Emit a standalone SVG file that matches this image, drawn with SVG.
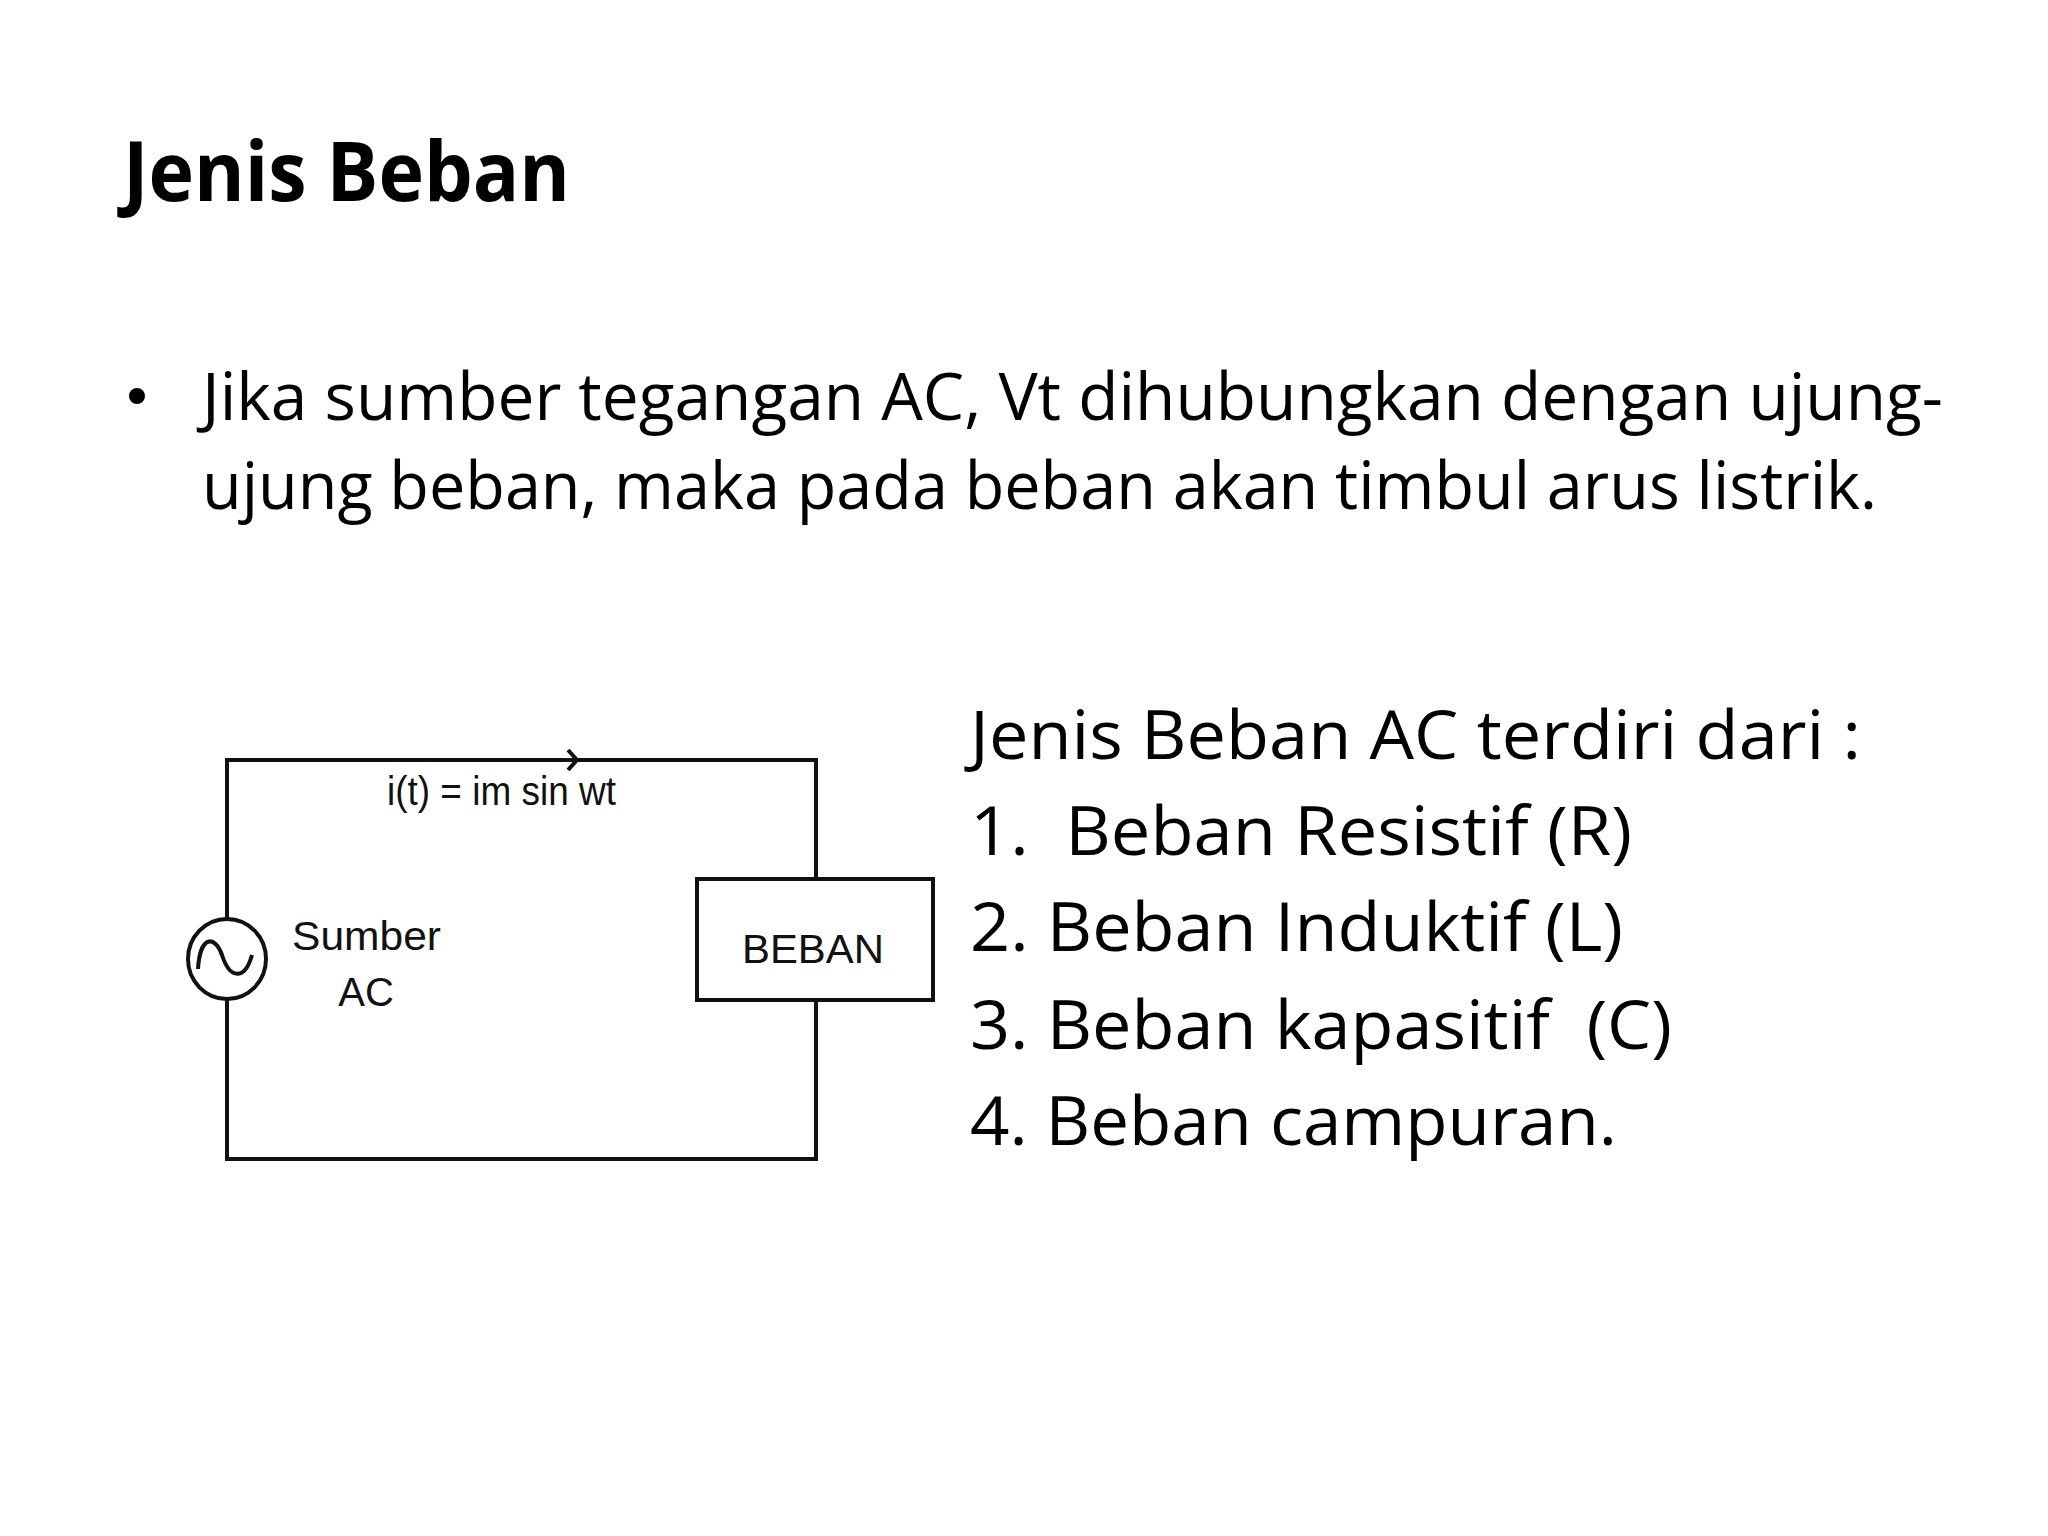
<svg xmlns="http://www.w3.org/2000/svg" width="2048" height="1536" viewBox="0 0 2048 1536">
<style>
.t{font-family:"Open Sans","Liberation Sans",sans-serif;fill:#000}
.c{font-family:"Liberation Sans",Arial,sans-serif;fill:#111;font-size:40px}
.w{fill:none;stroke:#111;stroke-width:4}
</style>
<rect width="2048" height="1536" fill="#fff"/>
<text class="t" x="123" y="201" font-size="82" font-weight="bold" textLength="447" lengthAdjust="spacingAndGlyphs">Jenis Beban</text>
<circle cx="137" cy="396" r="8" fill="#000"/>
<text class="t" x="202" y="420" font-size="66" textLength="1741" lengthAdjust="spacingAndGlyphs">Jika sumber tegangan AC, Vt dihubungkan dengan ujung-</text>
<text class="t" x="202" y="509" font-size="66" textLength="1675" lengthAdjust="spacingAndGlyphs">ujung beban, maka pada beban akan timbul arus listrik.</text>
<g id="list">
<text class="t" x="970" y="759" font-size="68" textLength="891" lengthAdjust="spacingAndGlyphs">Jenis Beban AC terdiri dari :</text>
<text class="t" x="970" y="855" font-size="68" textLength="662" lengthAdjust="spacingAndGlyphs" xml:space="preserve">1.  Beban Resistif (R)</text>
<text class="t" x="970" y="951" font-size="68" textLength="653" lengthAdjust="spacingAndGlyphs">2. Beban Induktif (L)</text>
<text class="t" x="970" y="1049" font-size="68" textLength="702" lengthAdjust="spacingAndGlyphs" xml:space="preserve">3. Beban kapasitif  (C)</text>
<text class="t" x="970" y="1145" font-size="68" textLength="647" lengthAdjust="spacingAndGlyphs">4. Beban campuran.</text>
</g>
<g id="connectors">
<polyline class="w" points="227,919 227,760 816,760 816,879"/>
<polyline class="w" points="227,999 227,1159 816,1159 816,1000"/>
<polyline class="w" points="568,750 577,760 568,770" stroke-width="3"/>
</g>
<g id="source">
<ellipse class="w" cx="227" cy="959" rx="39" ry="40" stroke-width="3"/>
<path class="w" stroke-width="3" d="M198,969 C200,935 215,935 222,955 C230,980 245,980 252,955"/>
<text class="c" x="292" y="950" textLength="149" lengthAdjust="spacingAndGlyphs">Sumber</text>
<text class="c" x="366" y="1006" text-anchor="middle">AC</text>
</g>
<text id="current" class="c" x="387" y="805" textLength="229" lengthAdjust="spacingAndGlyphs">i(t) = im sin wt</text>
<g id="beban">
<rect class="w" x="697" y="879" width="236" height="121"/>
<text class="c" x="813" y="963" text-anchor="middle" textLength="142" lengthAdjust="spacingAndGlyphs">BEBAN</text>
</g>
</svg>
